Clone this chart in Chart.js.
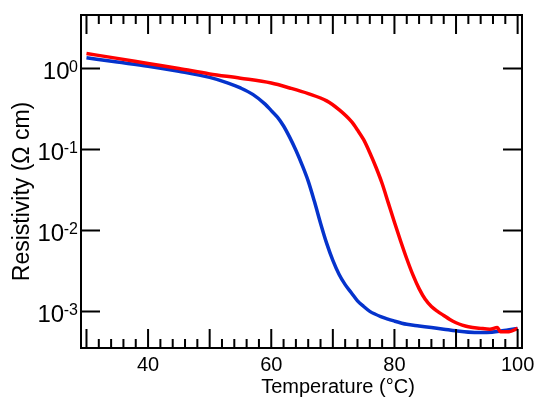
<!DOCTYPE html>
<html><head><meta charset="utf-8">
<script src="https://cdn.jsdelivr.net/npm/chart.js@4"></script>
<style>html,body{margin:0;padding:0;background:#fff}</style>
</head><body>
<canvas id="c" width="550" height="408" style="width:550px;height:408px;display:block"></canvas>
<script>
const tempRed = [30,35,40,45,50,55,60,63,66,69,71,73,74,75,76,77,78,79,80,81,82,83,84,85,86,87,88,89,90,91,92,94,95.5,96.7,97.2,98.6,100];
const resRed  = [1.531,1.334,1.153,1.0,0.857,0.759,0.661,0.575,0.490,0.398,0.31,0.222,0.174,0.132,0.0912,0.0603,0.038,0.0219,0.0126,0.00741,0.00447,0.00282,0.00191,0.00141,0.00115,0.00100,0.000891,0.000794,0.000724,0.000676,0.000646,0.000617,0.000603,0.000631,0.000562,0.000562,0.000617];
const tempBlue = [30,35,40,45,50,53,55,57,59,60,61,62,63,64,65,66,67,68,69,70,71,72,73,74,75,76,78,80,82,84,86,88,90,93,95,97.5,100];
const resBlue  = [1.355,1.202,1.067,0.923,0.776,0.661,0.575,0.479,0.363,0.302,0.251,0.195,0.141,0.0977,0.0646,0.0407,0.0229,0.0123,0.00692,0.00427,0.00288,0.00214,0.00170,0.00135,0.00115,0.00100,0.000851,0.000759,0.000692,0.000661,0.000631,0.000603,0.000575,0.000550,0.000550,0.000575,0.000617];
const xTickLabels = [40,60,80,100];
const xMajorTicks = [30,40,50,60,70,80,90,100];
const xMinorTicks = [32,34,36,38,42,44,46,48,52,54,56,58,62,64,66,68,72,74,76,78,82,84,86,88,92,94,96,98];
const yTickValues = [1,0.1,0.01,0.001];
const yTickExponents = ['0','-1','-2','-3'];
const xTitle = 'Temperature (°C)';
const yTitle = 'Resistivity (Ω cm)';
const FONT = '"Liberation Sans", Arial, Helvetica, sans-serif';

const framePlugin = {
  id: 'frame',
  afterDraw(chart) {
    const ctx = chart.ctx, a = chart.chartArea;
    const xs = chart.scales.x, ys = chart.scales.y;
    ctx.save();
    ctx.strokeStyle = '#000';
    ctx.lineWidth = 2;
    ctx.strokeRect(a.left, a.top, a.right - a.left, a.bottom - a.top);
    ctx.beginPath();
    const tick = (v, len) => {
      const px = xs.getPixelForValue(v);
      ctx.moveTo(px, a.bottom); ctx.lineTo(px, a.bottom - len);
      ctx.moveTo(px, a.top); ctx.lineTo(px, a.top + len);
    };
    xMajorTicks.forEach(v => tick(v, 19));
    xMinorTicks.forEach(v => tick(v, 9));
    yTickValues.forEach(v => {
      const py = ys.getPixelForValue(v);
      ctx.moveTo(a.left, py); ctx.lineTo(a.left + 19, py);
      ctx.moveTo(a.right, py); ctx.lineTo(a.right - 19, py);
    });
    ctx.stroke();
    ctx.fillStyle = '#000';
    ctx.textBaseline = 'alphabetic';
    yTickValues.forEach((v, i) => {
      const py = ys.getPixelForValue(v);
      ctx.font = '16px ' + FONT;
      ctx.textAlign = 'left';
      const sup = yTickExponents[i];
      const m = ctx.measureText(sup);
      const supX = a.left - 3 - m.actualBoundingBoxRight;
      ctx.fillText(sup, supX, py + 3.8);
      ctx.font = '24px ' + FONT;
      ctx.textAlign = 'right';
      ctx.fillText('10', supX + 0.5, py + 10.3);
    });
    // axis titles
    ctx.font = '20px ' + FONT;
    ctx.textAlign = 'center';
    ctx.fillText(xTitle, 338, 393);
    ctx.save();
    ctx.translate(28.5, 191.5);
    ctx.rotate(-Math.PI / 2);
    ctx.font = '23px ' + FONT;
    ctx.fillText(yTitle, 0, 0);
    ctx.restore();
    ctx.restore();
  }
};

new Chart(document.getElementById('c'), {
  type: 'line',
  data: {
    datasets: [
      { label: 'red', data: tempRed.map((t, i) => ({x: t, y: resRed[i]})), borderColor: '#ff0000', borderWidth: 3.5, pointRadius: 0, cubicInterpolationMode: 'monotone', fill: false },
      { label: 'blue', data: tempBlue.map((t, i) => ({x: t, y: resBlue[i]})), borderColor: '#0533cc', borderWidth: 3.5, pointRadius: 0, cubicInterpolationMode: 'monotone', fill: false }
    ]
  },
  options: {
    responsive: false,
    animation: false,
    devicePixelRatio: 1,
    layout: { padding: { top: 15, right: 28, bottom: 0, left: 0 } },
    plugins: { legend: { display: false }, tooltip: { enabled: false } },
    scales: {
      x: {
        type: 'linear', min: 29.11, max: 100.71,
        grid: { display: false, drawTicks: false },
        border: { display: false },
        ticks: { font: { size: 20, family: FONT }, color: '#000', padding: 5, autoSkip: false, maxRotation: 0 },
        afterBuildTicks: s => { s.ticks = xTickLabels.map(v => ({ value: v })); },
        afterFit: s => { s.height = 60; },
        title: { display: false, text: xTitle }
      },
      y: {
        type: 'logarithmic', min: 3.53e-4, max: 4.58,
        grid: { display: false, drawTicks: false },
        border: { display: false },
        ticks: { display: false },
        afterBuildTicks: s => { s.ticks = yTickValues.map(v => ({ value: v })); },
        afterFit: s => { s.width = 81; },
        title: { display: false, text: yTitle }
      }
    }
  },
  plugins: [framePlugin]
});
</script>
</body></html>
